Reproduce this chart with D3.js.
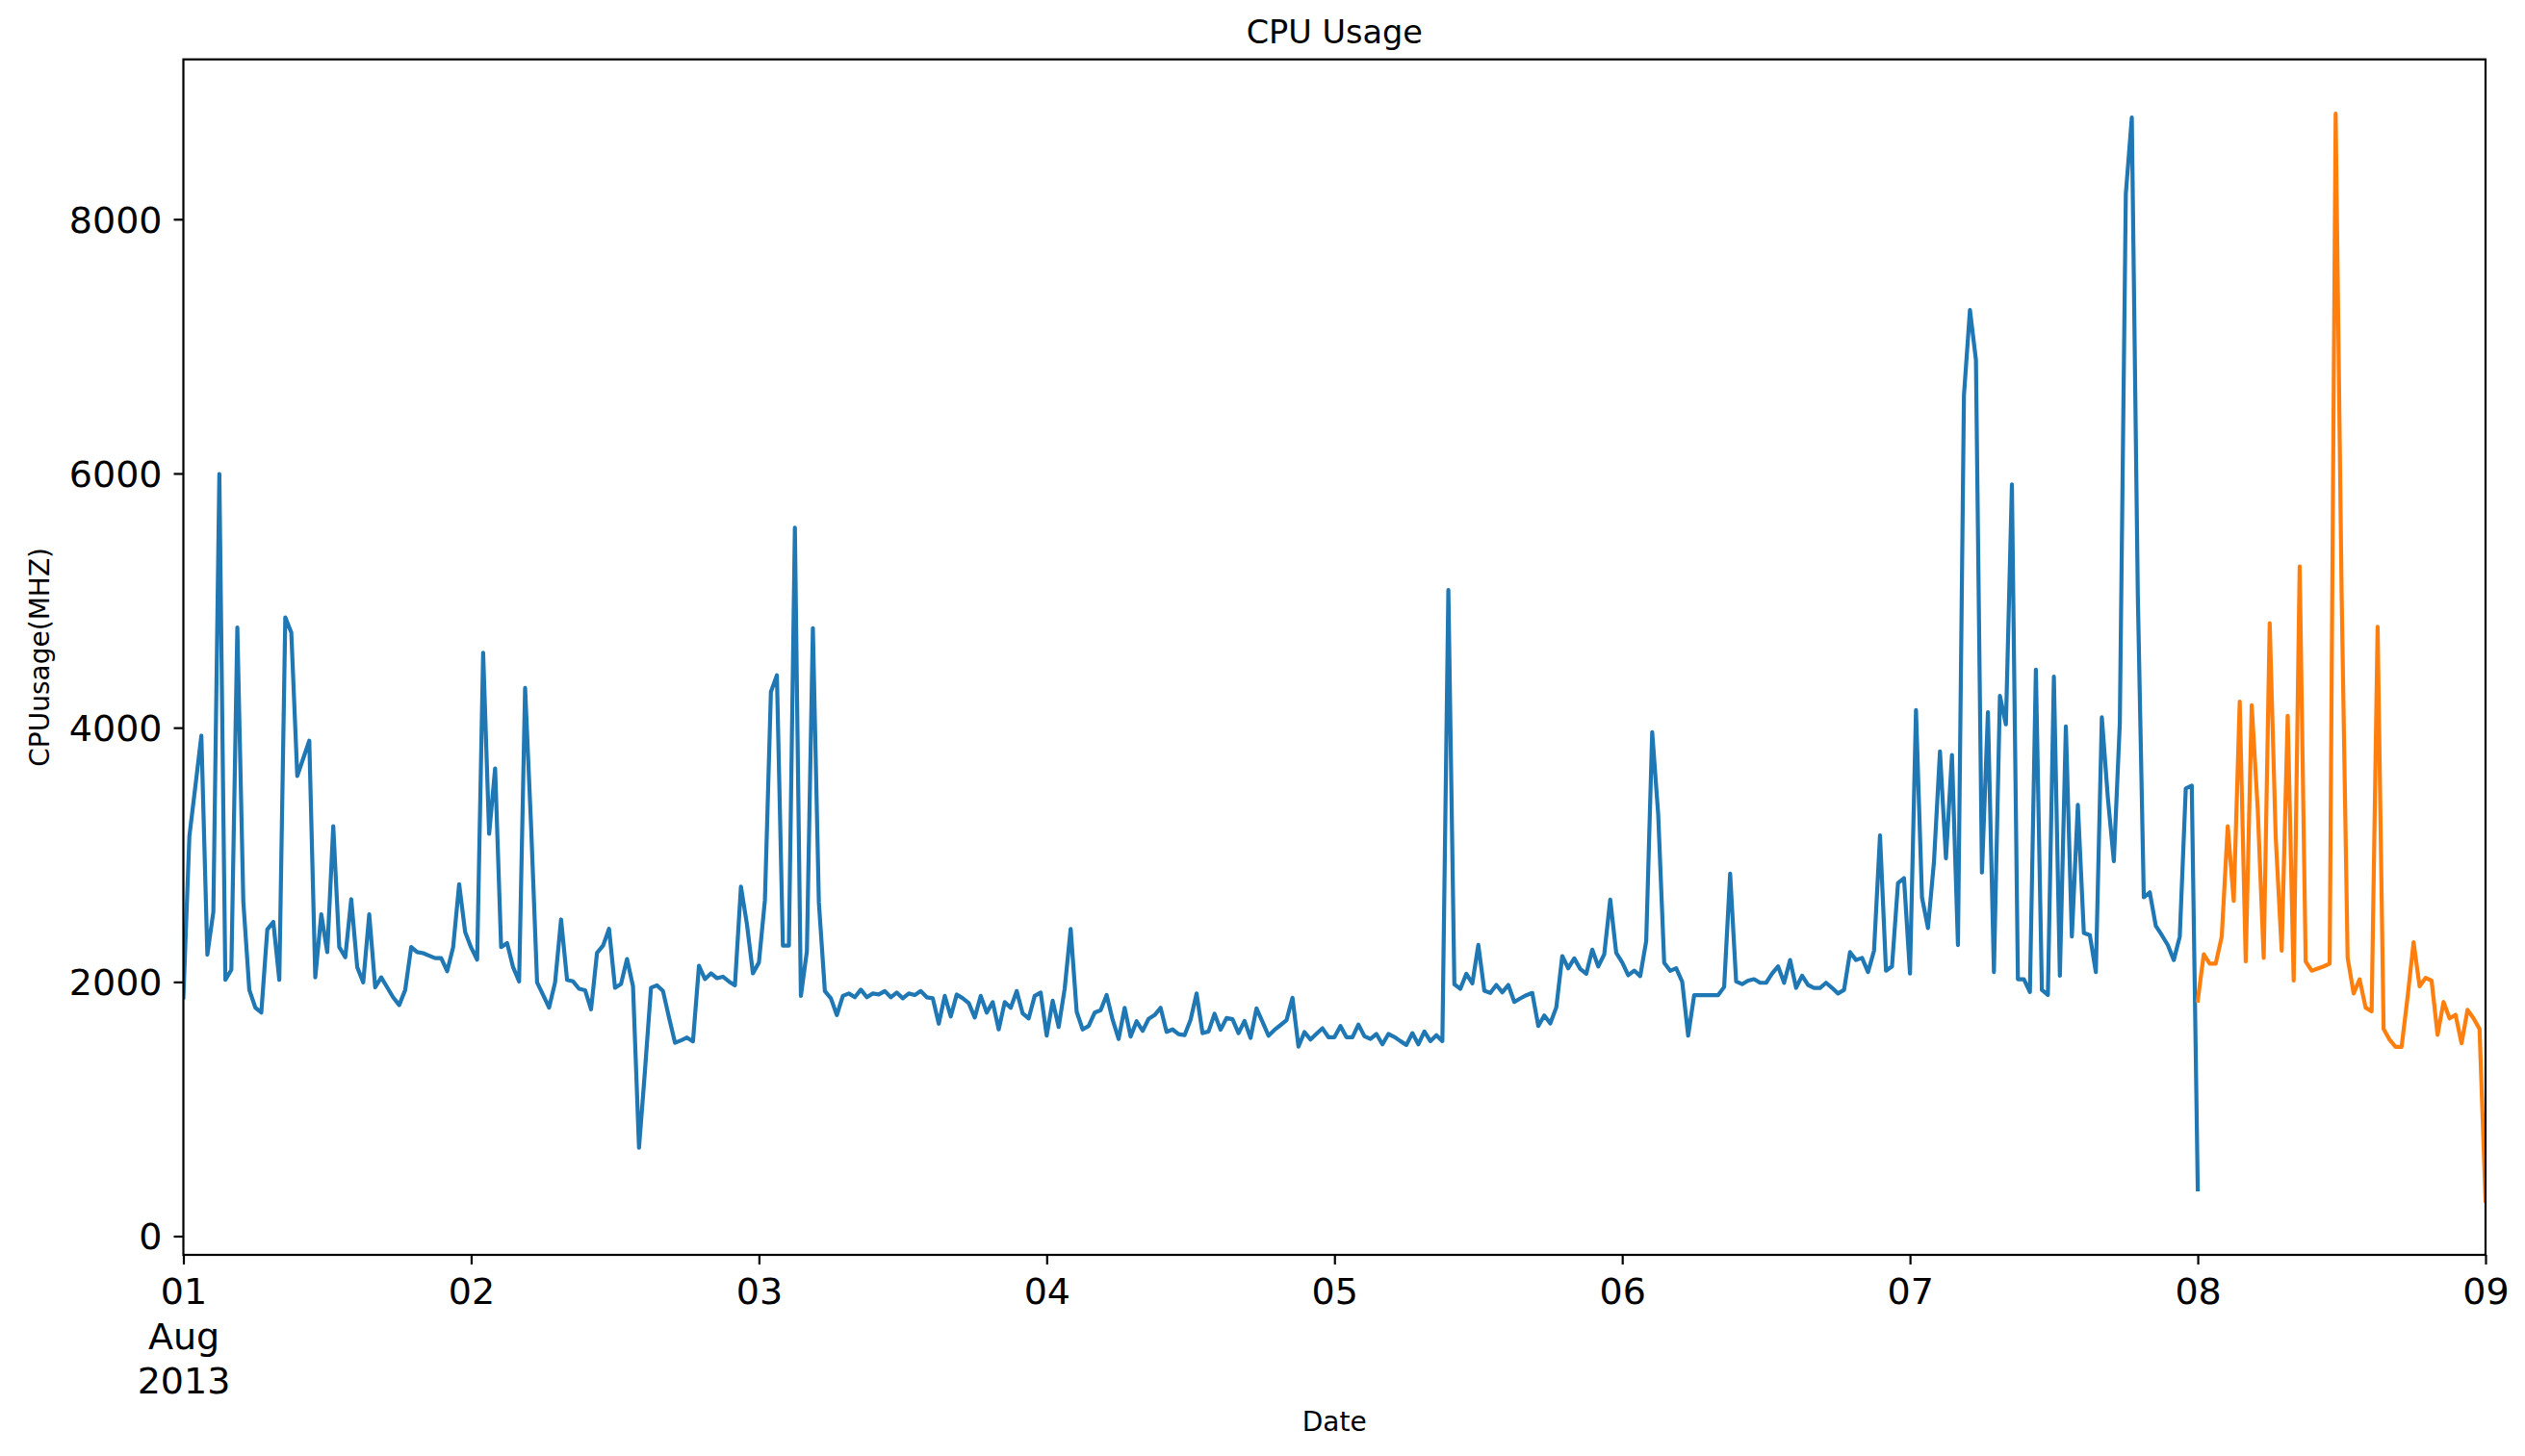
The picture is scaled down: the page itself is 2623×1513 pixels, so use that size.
<!DOCTYPE html>
<html>
<head>
<meta charset="utf-8">
<script src="https://cdn.jsdelivr.net/npm/d3@7/dist/d3.min.js"></script>
<style>
  html, body { margin: 0; padding: 0; background: #ffffff; }
  svg { display: block; }
  text { font-family: "DejaVu Sans", sans-serif; fill: #000; }
</style>
</head>
<body>
<svg id="chart" width="2623" height="1513"></svg>
<script>
// ---- data (half-hourly CPU usage samples, MHz) ----
const title = "CPU Usage";
const xLabel = "Date";
const yLabel = "CPUusage(MHZ)";
const seriesStart = "2013-08-01T00:00:00";   // first blue sample
const orangeStart = "2013-08-08T00:00:00";   // first orange sample
const sampleMinutes = 30;
const xTickDates = ["2013-08-01","2013-08-02","2013-08-03","2013-08-04","2013-08-05","2013-08-06","2013-08-07","2013-08-08","2013-08-09"];
const xTickLabels = [["01","Aug","2013"],["02"],["03"],["04"],["05"],["06"],["07"],["08"],["09"]];
const yTicks = [0, 2000, 4000, 6000, 8000];

const blueValues = [
1878,3145,3540,3937,2214,2551,5996,2016,2095,4788,
2630,1937,1798,1759,2412,2472,2016,4867,4749,3620,
3759,3897,2036,2531,2234,3224,2274,2194,2650,2115,
1996,2531,1957,2036,1957,1878,1818,1937,2274,2234,
2226,2206,2187,2187,2084,2274,2769,2392,2270,2175,
4590,3165,3679,2274,2305,2115,2004,4313,3224,1996,
1897,1798,1996,2491,2016,2004,1946,1935,1784,2229,
2285,2417,1954,1984,2180,1965,696,1306,1954,1973,
1928,1720,1521,1540,1562,1532,2127,2022,2067,2029,
2041,2003,1973,2749,2455,2067,2153,2643,4281,4413,
2285,2285,5573,1890,2240,4782,2624,1928,1871,1739,
1890,1909,1879,1939,1879,1909,1901,1928,1879,1916,
1871,1909,1897,1928,1879,1871,1671,1890,1728,1901,
1871,1833,1720,1890,1758,1841,1626,1841,1796,1928,
1751,1713,1890,1916,1577,1852,1645,1946,2417,1766,
1626,1653,1758,1777,1897,1702,1551,1796,1570,1690,
1615,1709,1739,1796,1607,1626,1589,1581,1702,1909,
1597,1610,1749,1623,1716,1706,1597,1693,1559,1792,
1686,1577,1623,1660,1698,1875,1491,1605,1547,1592,
1635,1565,1565,1653,1565,1565,1665,1572,1552,1590,
1509,1590,1567,1534,1504,1597,1509,1610,1534,1580,
1534,5083,1981,1946,2064,1988,2291,1930,1913,1976,
1918,1976,1842,1870,1895,1913,1653,1736,1673,1799,
2203,2107,2185,2102,2064,2254,2122,2216,2648,2228,
2153,2052,2089,2045,2321,3965,3319,2151,2087,2108,
2002,1577,1896,1896,1896,1896,1896,1960,2852,2004,
1982,2010,2021,1993,1993,2066,2122,1993,2172,1953,
2049,1976,1953,1953,1993,1953,1909,1937,2234,2172,
2189,2077,2245,3152,2088,2122,2777,2816,2066,4138,
2665,2424,2945,3813,2973,3785,2290,6614,7286,6894,
2861,4121,2077,4250,4026,5913,2021,2021,1920,4457,
1937,1898,4401,2049,4009,2357,3393,2385,2368,2077,
4082,3449,2950,4037,8200,8800,5045,2665,2704,2441,
2368,2290,2172,2357,3522,3544,368
];

const orangeValues = [
1853,2217,2144,2144,2357,3225,2637,4205,2161,4177,
3365,2189,4821,3141,2245,4093,2010,5269,2161,2088,
2105,2122,2144,8830,5045,2189,1909,2021,1797,1769,
4793,1629,1545,1489,1489,1881,2312,1965,2032,2010,
1584,1842,1713,1741,1517,1780,1713,1629,280
];

// ---- layout ----
const W = 2623, H = 1513;
const plot = { left: 190.5, right: 2582, top: 61.7, bottom: 1304 };
const colors = { blue: "#1f77b4", orange: "#ff7f0e" };

const parse = d3.isoParse;
function toSeries(startStr, values) {
  const t0 = parse(startStr).getTime();
  return values.map((v, i) => ({ t: new Date(t0 + i * sampleMinutes * 60000), v }));
}
const blue = toSeries(seriesStart, blueValues);
const orange = toSeries(orangeStart, orangeValues);
const all = blue.concat(orange);

const svg = d3.select("#chart");
svg.append("rect").attr("width", W).attr("height", H).attr("fill", "#fff");

const x = d3.scaleTime()
  .domain(d3.extent(all, d => d.t))
  .range([plot.left, plot.right]);

const yMin = d3.min(all, d => d.v), yMax = d3.max(all, d => d.v);
const pad = (yMax - yMin) * 0.05;
const y = d3.scaleLinear()
  .domain([yMin - pad, yMax + pad])
  .range([plot.bottom, plot.top]);

const line = d3.line().x(d => x(d.t)).y(d => y(d.v));

svg.append("defs").append("clipPath").attr("id", "clip")
  .append("rect").attr("x", plot.left).attr("y", plot.top)
  .attr("width", plot.right - plot.left).attr("height", plot.bottom - plot.top);

const g = svg.append("g").attr("clip-path", "url(#clip)");
[[blue, colors.blue], [orange, colors.orange]].forEach(([data, c]) => {
  g.append("path").datum(data)
    .attr("d", line)
    .attr("fill", "none")
    .attr("stroke", c)
    .attr("stroke-width", 4.2)
    .attr("stroke-linejoin", "round")
    .attr("stroke-linecap", "square");
});

// ---- axes ----
const tickFont = 38;
const yAxis = d3.axisLeft(y).tickValues(yTicks).tickSize(10).tickPadding(12).tickFormat(d3.format("d"));
const gy = svg.append("g").attr("transform", `translate(${plot.left},0)`).call(yAxis);
gy.select(".domain").remove();
gy.selectAll(".tick line").attr("stroke", "#000").attr("stroke-width", 2.2);
gy.selectAll(".tick text").attr("font-size", tickFont).attr("font-family", "DejaVu Sans").attr("dy", "0.35em").attr("fill", "#000");

const xTicks = xTickDates.map(s => parse(s + "T00:00:00"));
const xAxis = d3.axisBottom(x).tickValues(xTicks).tickSize(10).tickFormat(() => "");
const gx = svg.append("g").attr("transform", `translate(0,${plot.bottom})`).call(xAxis);
gx.select(".domain").remove();
gx.selectAll(".tick line").attr("stroke", "#000").attr("stroke-width", 2.2);
gx.selectAll(".tick").each(function(d, i) {
  const t = d3.select(this).select("text").text(null)
    .attr("font-size", tickFont).attr("font-family", "DejaVu Sans")
    .attr("text-anchor", "middle").attr("y", 0).attr("dy", null).attr("fill", "#000");
  xTickLabels[i].forEach((s, k) => {
    t.append("tspan").attr("x", 0).attr("y", 51 + k * 46.5).text(s);
  });
});

// spines
svg.append("rect")
  .attr("x", plot.left).attr("y", plot.top)
  .attr("width", plot.right - plot.left).attr("height", plot.bottom - plot.top)
  .attr("fill", "none").attr("stroke", "#000").attr("stroke-width", 2.2);

// titles
svg.append("text").attr("x", (plot.left + plot.right) / 2).attr("y", 45)
  .attr("text-anchor", "middle").attr("font-size", 33.5).text(title);
svg.append("text").attr("x", (plot.left + plot.right) / 2).attr("y", 1487)
  .attr("text-anchor", "middle").attr("font-size", 28).text(xLabel);
svg.append("text")
  .attr("transform", `translate(51,${(plot.top + plot.bottom) / 2}) rotate(-90)`)
  .attr("text-anchor", "middle").attr("font-size", 28).text(yLabel);
</script>
</body>
</html>
